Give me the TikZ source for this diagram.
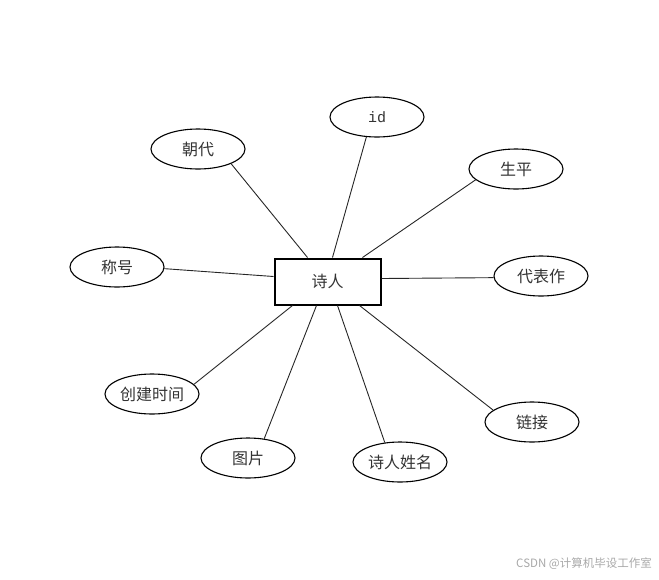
\documentclass[tikz,border=0pt]{standalone}
\usepackage{fontspec}
\setmainfont{Noto Sans CJK SC}
\newfontfamily\cjk{Noto Sans CJK SC}
\newfontfamily\monof{Liberation Mono}
\usetikzlibrary{shapes.geometric,calc}
\definecolor{txt}{HTML}{333333}
\definecolor{wm}{HTML}{A8A8A8}
\begin{document}
\begin{tikzpicture}[x=1pt,y=-1pt,
  attr/.style={ellipse,draw=black,line width=1.1pt,minimum width=94pt,minimum height=40pt,inner sep=0pt,font=\cjk\fontsize{16}{16}\selectfont,text=txt},
  ent/.style={rectangle,draw=black,line width=2pt,minimum width=106pt,minimum height=46pt,inner sep=0pt,font=\cjk\fontsize{16}{16}\selectfont,text=txt},
  link/.style={draw=black!85,line width=0.9pt}]
\useasboundingbox (0,0) rectangle (659,579);
\node[ent] (r) at (327.5,281.5) {诗人};
\node[attr] (id) at (377,117) {\monof\fontsize{15}{15}\selectfont id};
\node[attr] (cd) at (198,149) {朝代};
\node[attr] (sp) at (516,169) {生平};
\node[attr] (ch) at (117,267) {称号};
\node[attr] (db) at (541,276) {代表作};
\node[attr] (cj) at (152,394) {创建时间};
\node[attr] (lj) at (532,422) {链接};
\node[attr] (tp) at (248,458) {图片};
\node[attr] (xm) at (400,462) {诗人姓名};
\coordinate (t1) at ($(r.north west)+(34,0)$);
\coordinate (t2) at ($(r.north west)+(59,0)$);
\coordinate (t3) at ($(r.north west)+(89,0)$);
\coordinate (b1) at ($(r.south west)+(19,0)$);
\coordinate (b2) at ($(r.south west)+(43,0)$);
\coordinate (b3) at ($(r.south west)+(64,0)$);
\coordinate (b4) at ($(r.south west)+(86,0)$);
\coordinate (l1) at ($(r.north west)+(0,19)$);
\coordinate (r1) at ($(r.north east)+(0,21)$);
\draw[link] (t1) -- (cd.-24);
\draw[link] (t2) -- (id.-118);
\draw[link] (t3) -- (sp.-165);
\draw[link] (l1) -- (ch.-2);
\draw[link] (r1) -- (db.182);
\draw[link] (b1) -- (cj.13);
\draw[link] (b2) -- (tp.50);
\draw[link] (b3) -- (xm.128);
\draw[link] (b4) -- (lj.163);
\node[anchor=east,text=wm,font=\cjk\fontsize{11.5}{12}\selectfont,inner sep=0pt] (wmk) at (652,564) {CSDN @计算机毕设工作室};
\end{tikzpicture}
\end{document}
